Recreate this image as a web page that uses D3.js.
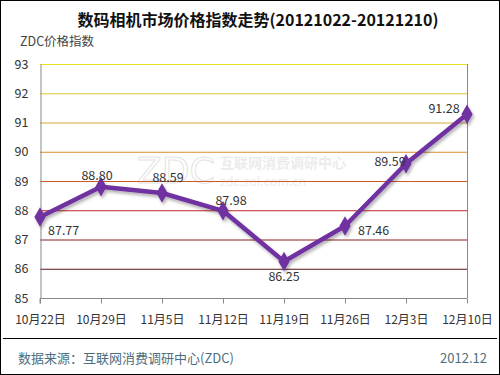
<!DOCTYPE html>
<html><head><meta charset="utf-8">
<script src="https://cdn.jsdelivr.net/npm/d3@7"></script>
<style>body{margin:0;background:#fff}svg{display:block}</style>
</head><body>
<script>
const categories = ["10月22日","10月29日","11月5日","11月12日","11月19日","11月26日","12月3日","12月10日"];
const values = [87.77, 88.80, 88.59, 87.98, 86.25, 87.46, 89.59, 91.28];
const yTicks = [85, 86, 87, 88, 89, 90, 91, 92, 93];
const gridColors = {86:"#5a1414",87:"#8e1e1e",88:"#c02828",89:"#cc5a22",90:"#d88a30",91:"#d8a838",92:"#e0c830",93:"#e6e020"};
// label offsets [dx, dy, anchor]
const labelPos = [[8,14,"start"],[-4,-11,"middle"],[6,-15,"middle"],[8,-10,"middle"],[0,16,"middle"],[13,5,"start"],[-16,-2,"middle"],[-23,-5,"middle"]];

const W = 500, H = 375;
const svg = d3.select("body").append("svg").attr("width", W).attr("height", H);
const font = "'Noto Sans CJK SC','Noto Sans',sans-serif";

svg.append("rect").attr("x",0.5).attr("y",0.5).attr("width",W-1).attr("height",H-1)
  .attr("fill","#fff").attr("stroke","#000");

const m = {l:40, r:467, t:64, b:298};
const x = d3.scalePoint().domain(categories).range([m.l, m.r]);
const y = d3.scaleLinear().domain([85, 93]).range([m.b, m.t]);

// title
svg.append("text").attr("x",258).attr("y",26).attr("text-anchor","middle")
  .attr("font-family",font).attr("font-weight","bold").attr("font-size",16).attr("fill","#111")
  .text("数码相机市场价格指数走势(20121022-20121210)");
svg.append("text").attr("x",20).attr("y",46).attr("font-family",font).attr("font-size",12.5)
  .attr("fill","#444").text("ZDC价格指数");

// watermark
const wm = svg.append("g");
wm.append("text").attr("x",137).attr("y",183).attr("font-family","'DejaVu Sans',sans-serif")
  .attr("font-size",36).attr("stroke","#e4e4e4").attr("stroke-width",1).attr("fill","none").text("ZDC");
wm.append("text").attr("x",220).attr("y",168).attr("font-family",font).attr("font-size",14)
  .attr("font-weight","bold").attr("fill","#ececec").text("互联网消费调研中心");
wm.append("text").attr("x",220).attr("y",186).attr("font-family",font).attr("font-size",12.5)
  .attr("fill","#ececec").text("zdc.zol.com.cn");

// grid lines
svg.append("g").selectAll("line").data(yTicks.filter(d=>d>85)).join("line")
  .attr("x1",m.l).attr("x2",m.r).attr("y1",d=>y(d)+0.5).attr("y2",d=>y(d)+0.5)
  .attr("stroke",d=>gridColors[d]).attr("stroke-width",1);

// axes
const yAxis = svg.append("g").attr("transform",`translate(${m.l+0.5},0)`)
  .call(d3.axisLeft(y).tickValues(yTicks).tickSize(0).tickPadding(12).tickFormat(d3.format("d")));
yAxis.select(".domain").attr("stroke","#888");
yAxis.selectAll("text").attr("font-family",font).attr("font-size",12.5).attr("fill","#333");

svg.append("line").attr("x1",m.r+0.5).attr("x2",m.r+0.5).attr("y1",m.t).attr("y2",m.b).attr("stroke","#888");

const xAxis = svg.append("g").attr("transform",`translate(0,${m.b+0.5})`)
  .call(d3.axisBottom(x).tickSize(5).tickPadding(12));
xAxis.select(".domain").attr("stroke","#888").attr("d",`M${m.l},5V0H${m.r}`);
xAxis.selectAll(".tick line").attr("stroke","#888");
xAxis.selectAll("text").attr("font-family",font).attr("font-size",12).attr("fill","#333");

// shadow filter
const defs = svg.append("defs");
const f = defs.append("filter").attr("id","sh").attr("x","-10%").attr("y","-10%").attr("width","120%").attr("height","130%");
f.append("feDropShadow").attr("dx",1.5).attr("dy",2.5).attr("stdDeviation",1.5).attr("flood-color","#000").attr("flood-opacity",0.3);

const data = categories.map((c,i)=>({c, v: values[i], i}));
const g = svg.append("g").attr("filter","url(#sh)");
g.append("path").datum(data).attr("fill","none").attr("stroke","#7030a0").attr("stroke-width",4.5)
  .attr("stroke-linejoin","round")
  .attr("d", d3.line().x(d=>x(d.c)).y(d=>y(d.v)));
g.selectAll("path.m").data(data).join("path").attr("class","m")
  .attr("transform",d=>`translate(${x(d.c)},${y(d.v)})`)
  .attr("d", d3.symbol().type(d3.symbolDiamond).size(110)).attr("fill","#7030a0");

svg.append("g").selectAll("text").data(data).join("text")
  .attr("x",d=>x(d.c)+labelPos[d.i][0]).attr("y",d=>y(d.v)+labelPos[d.i][1]+4)
  .attr("text-anchor",d=>labelPos[d.i][2])
  .attr("font-family",font).attr("font-size",12.5).attr("fill","#333")
  .text(d=>d.v.toFixed(2));

// footer
svg.append("line").attr("x1",3).attr("x2",497).attr("y1",338.5).attr("y2",338.5).attr("stroke","#000");
svg.append("text").attr("x",18).attr("y",363).attr("font-family",font).attr("font-size",13)
  .attr("fill","#4d6e7e").text("数据来源：互联网消费调研中心(ZDC)");
svg.append("text").attr("x",487).attr("y",363).attr("text-anchor","end").attr("font-family",font).attr("font-size",13)
  .attr("fill","#4d6e7e").text("2012.12");
</script>
</body></html>
